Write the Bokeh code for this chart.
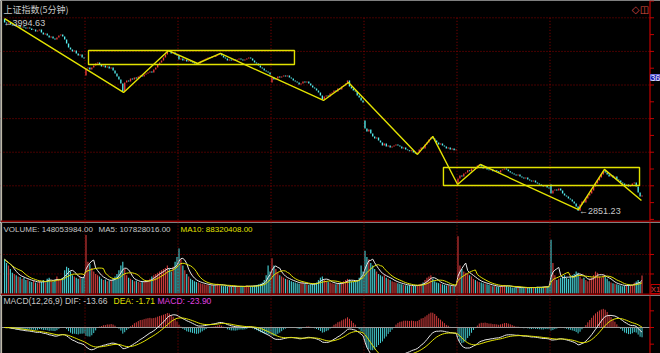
import numpy as np
import pandas as pd
from bokeh.plotting import figure
from bokeh.layouts import column
from bokeh.models import Range1d, Span, Label
from bokeh.embed import file_html
from bokeh.resources import INLINE
from bokeh.core.properties import value

# ---------------- data ----------------
TITLE = "上证指数(5分钟)"
VOL_LABELS = ["VOLUME: 148053984.00", "MA5: 107828016.00", "MA10: 88320408.00"]
MACD_LABELS = ["MACD(12,26,9) DIF: -13.66", "DEA: -1.71", "MACD: -23.90"]
PRICE_LABEL = "36"
VOL_UNIT_LABEL = "X1"

day_open = [3994.63, 3657, 3776, 3615, 3389, 3014, 3008]

day1_close = [3972, 3966, 3972, 3960, 3954, 3960, 3948, 3954, 3942, 3948,
              3942, 3936, 3942, 3936, 3927, 3930, 3918, 3924, 3930, 3913,
              3901, 3907, 3895, 3883, 3889, 3877, 3871, 3883, 3895, 3901,
              3889, 3871, 3847, 3823, 3811, 3800, 3806, 3788, 3776, 3782,
              3764, 3758]
day2_close = [3698, 3704, 3692, 3704, 3716, 3728, 3734, 3722, 3710, 3716,
              3704, 3710, 3698, 3704, 3687, 3669, 3651, 3633, 3609, 3565,
              3615, 3627, 3621, 3639, 3633, 3645, 3639, 3651, 3657, 3651,
              3663, 3669, 3675, 3681, 3675, 3692, 3704, 3722, 3734, 3746,
              3764, 3782, 3805, 3800, 3788, 3794, 3782, 3776]
day3_close = [3752, 3758, 3746, 3752, 3740, 3746, 3740, 3734, 3728, 3722,
              3728, 3740, 3746, 3752, 3758, 3764, 3761, 3770, 3767, 3776,
              3782, 3788, 3776, 3764, 3758, 3746, 3752, 3746, 3752, 3746,
              3752, 3758, 3752, 3746, 3752, 3758, 3764, 3758, 3746, 3734,
              3728, 3716, 3704, 3698, 3687, 3681, 3675, 3663]
day4_close = [3645, 3633, 3639, 3651, 3645, 3651, 3657, 3651, 3657, 3645,
              3639, 3627, 3621, 3615, 3603, 3609, 3621, 3615, 3621, 3609,
              3597, 3585, 3579, 3568, 3556, 3538, 3514, 3532, 3538, 3532,
              3550, 3556, 3568, 3562, 3579, 3573, 3591, 3597, 3609, 3627,
              3591, 3579, 3568, 3562, 3538, 3526, 3508, 3496]
day5_close = [3341, 3324, 3335, 3312, 3294, 3282, 3288, 3270, 3258, 3240,
              3252, 3234, 3240, 3228, 3234, 3240, 3246, 3240, 3234, 3222,
              3228, 3216, 3211, 3205, 3211, 3199, 3193, 3199, 3216, 3228,
              3222, 3246, 3258, 3276, 3288, 3282, 3270, 3258, 3246, 3252,
              3240, 3234, 3222, 3228, 3216, 3222, 3211, 3216]
day6_close = [3044, 3062, 3056, 3074, 3080, 3092, 3086, 3103, 3109, 3103,
              3121, 3127, 3115, 3103, 3109, 3097, 3092, 3097, 3086, 3092,
              3086, 3080, 3092, 3097, 3103, 3097, 3086, 3080, 3074, 3068,
              3062, 3068, 3056, 3050, 3044, 3050, 3038, 3032, 3026, 3032,
              3020, 3014, 3008, 3002, 2996, 3002, 2990, 2984]
day7_close = [2955, 2972, 2978, 2972, 2984, 2972, 2955, 2943, 2937, 2925,
              2919, 2907, 2895, 2877, 2851.23, 2889, 2907, 2901, 2925, 2943,
              2955, 2972, 2996, 3014, 3032, 3050, 3068, 3086, 3080, 3068,
              3056, 3062, 3050, 3056, 3038, 3032, 3020, 3014, 3002, 3008,
              2996, 3002, 3014, 3020, 2996, 2960, 2937, 2943]
day_closes = [day1_close, day2_close, day3_close, day4_close,
              day5_close, day6_close, day7_close]

# volumes in millions
day1_vol = [280, 250, 230, 200, 170, 160, 150, 140, 135, 120,
            130, 110, 115, 100, 95, 105, 90, 85, 100, 95,
            110, 90, 120, 130, 100, 95, 110, 140, 120, 115,
            130, 190, 220, 210, 180, 150, 140, 130, 120, 135,
            125, 140]
day2_vol = [480, 260, 240, 210, 180, 160, 150, 140, 120, 110,
            115, 100, 105, 110, 120, 140, 160, 190, 230, 260,
            200, 150, 130, 120, 110, 100, 105, 95, 90, 100,
            95, 105, 110, 120, 140, 150, 160, 170, 180, 190,
            200, 210, 230, 200, 180, 220, 260, 300]
day3_vol = [370, 280, 230, 190, 160, 140, 120, 110, 100, 95,
            90, 85, 80, 75, 70, 72, 65, 70, 68, 75,
            80, 70, 65, 60, 62, 58, 60, 55, 58, 62,
            55, 60, 58, 56, 60, 65, 62, 58, 60, 65,
            70, 75, 80, 90, 110, 150, 230, 180]
day4_vol = [290, 230, 200, 170, 150, 140, 130, 120, 115, 110,
            100, 95, 90, 85, 80, 85, 90, 80, 75, 70,
            75, 80, 85, 90, 110, 130, 140, 110, 100, 95,
            90, 85, 80, 75, 80, 85, 90, 100, 110, 120,
            115, 100, 95, 100, 110, 130, 230, 180]
day5_vol = [350, 300, 280, 250, 230, 200, 180, 160, 150, 140,
            150, 130, 120, 110, 100, 95, 90, 85, 80, 75,
            70, 68, 65, 70, 60, 62, 65, 70, 75, 80,
            90, 110, 130, 140, 150, 120, 100, 90, 85, 80,
            75, 70, 65, 68, 62, 60, 58, 65]
day6_vol = [470, 230, 200, 180, 170, 160, 150, 140, 120, 110,
            100, 95, 90, 85, 80, 75, 70, 65, 60, 62,
            58, 55, 60, 65, 70, 62, 58, 55, 50, 48,
            52, 50, 48, 45, 50, 48, 45, 50, 52, 48,
            50, 55, 52, 50, 55, 60, 58, 62]
day7_vol = [440, 250, 150, 110, 120, 130, 140, 150, 130, 120,
            140, 150, 160, 180, 170, 140, 120, 130, 110, 100,
            120, 130, 150, 180, 170, 140, 130, 150, 140, 120,
            100, 90, 85, 80, 75, 70, 65, 60, 62, 70,
            75, 68, 69.1, 88, 98, 110, 95, 148.05]
day_vols = [day1_vol, day2_vol, day3_vol, day4_vol, day5_vol, day6_vol, day7_vol]

# hand-drawn annotations (bar index, price)
zigzag_bar = [0, 61.4, 84.6, 99.6, 111.4, 164.6, 177.5, 213.1, 221.0, 233.8,
              245.6, 296.2, 309.6, 328.7]
zigzag_price = [3994.63, 3556, 3805, 3728, 3788, 3508, 3615, 3187, 3294, 3008,
                3127, 2858, 3098, 2913]
box_left = [43.3, 226.5]
box_right = [149.6, 327.7]
box_top = [3805, 3109]
box_bottom = [3722, 3002]

price_grid = [4000, 3800, 3600, 3400, 3200, 3000]
price_ticks = [2800, 2900, 3000, 3100, 3200, 3300, 3400, 3500, 3600, 3700,
               3800, 3900, 4000, 4100]
macd_ticks = [-40, 0, 40]

# ---------------- layout constants ----------------
W = 660
H_MAIN, H_VOL, H_MACD = 222, 73, 58
PX_BAR = 93 / 48
X0 = 4.1
P_PER_PX = 5.952
P_TOP = 4103.0
VS = 8.2      # million shares per pixel
MS = 2.4      # macd units per pixel

BG = "black"
C_UP = "#F03A3A"
C_DN = "#54EEF0"
V_UP = "#C83A3A"
V_DN = "#44C6CA"
GRID = "#8E0000"
AXIS = "#C40000"
SEP = "#900000"
YEL = "#E2E200"
WHT = "#E8E8E8"
TXT = "#C8C8C8"
MAG = "#E040E0"
FONT = "Liberation Sans"

# ---------------- derived series ----------------
closes = np.concatenate([np.array(c, dtype=float) for c in day_closes])
vols = np.concatenate([np.array(v, dtype=float) for v in day_vols])
N = len(closes)
assert len(vols) == N, (len(vols), N)
idx = np.arange(N)
opens = np.empty(N)
starts = []
pos = 0
for d, c in enumerate(day_closes):
    starts.append(pos)
    opens[pos] = day_open[d]
    opens[pos + 1:pos + len(c)] = np.array(c[:-1], dtype=float)
    pos += len(c)
bounds = [s - 0.5 for s in starts[1:]]

up = closes >= opens
ctop = np.maximum(opens, closes)
cbot = np.minimum(opens, closes)
flat = (ctop - cbot) < 3
ctop = np.where(flat, ctop + 2, ctop)
cbot = np.where(flat, cbot - 2, cbot)
ccol = np.where(up, C_UP, C_DN)
vcol = np.where(up, V_UP, V_DN)

vs = pd.Series(vols)
ma5 = vs.rolling(5, min_periods=1).mean().values
ma10 = vs.rolling(10, min_periods=1).mean().values

cs = pd.Series(closes)
dif = (cs.ewm(span=12, adjust=False).mean() - cs.ewm(span=26, adjust=False).mean()).values
dea = pd.Series(dif).ewm(span=9, adjust=False).mean().values
hist = 2 * (dif - dea)
hcol = np.where(hist >= 0, "#D03C3C", "#44CCD0")

x_start = -X0 / PX_BAR
x_end = (W - X0) / PX_BAR
AXIS_X = (649.5 - X0) / PX_BAR
TICK_X = (653.5 - X0) / PX_BAR
LEFT_X = (1.0 - X0) / PX_BAR
xr = Range1d(x_start, x_end)


def base_fig(height, yr):
    f = figure(width=W, height=height, x_range=xr, y_range=yr,
               output_backend="svg", toolbar_location=None, min_border=0,
               x_axis_type=None, y_axis_type=None,
               background_fill_color=BG, border_fill_color=BG,
               outline_line_color=None)
    f.add_layout(Span(location=AXIS_X, dimension="height", line_color=AXIS, line_width=1.2))
    f.add_layout(Span(location=LEFT_X, dimension="height", line_color="#BDB8A8", line_width=1.2))
    return f


# ---------------- main price panel ----------------
p_bottom = P_TOP - H_MAIN * P_PER_PX
p = base_fig(H_MAIN, Range1d(p_bottom, P_TOP))
p.segment(x0=[x_start] * len(price_grid), x1=[AXIS_X] * len(price_grid),
          y0=price_grid, y1=price_grid, line_color=GRID, line_dash="1 2", line_width=1)
p.segment(x0=bounds, x1=bounds, y0=[price_grid[0]] * len(bounds), y1=[p_bottom] * len(bounds),
          line_color=GRID, line_dash="1 2", line_width=1)
p.segment(x0=[AXIS_X] * len(price_ticks), x1=[TICK_X] * len(price_ticks),
          y0=price_ticks, y1=price_ticks, line_color=AXIS, line_width=1)
p.add_layout(Span(location=p_bottom + 1.0 * P_PER_PX, dimension="width",
                  line_color=SEP, line_width=2))

p.vbar(x=idx, top=ctop, bottom=cbot, width=0.7, fill_color=ccol, line_color=None)

p.line(zigzag_bar, zigzag_price, line_color=YEL, line_width=1.4)
p.quad(left=box_left, right=box_right, top=box_top, bottom=box_bottom,
       fill_color=None, line_color=YEL, line_width=1.4)

i_max = int(np.argmax(np.maximum(opens, closes)))
i_min = int(np.argmin(np.minimum(opens, closes)))
hi = float(np.maximum(opens, closes)[i_max])
lo = float(np.minimum(opens, closes)[i_min])
p.text(x=[i_max], y=[hi], text=["\u2190%.2f" % hi], text_color=TXT,
       text_font=value(FONT), text_font_size=value("9px"),
       text_baseline="middle", text_align="left", x_offset=-1, y_offset=4)
p.text(x=[i_min], y=[lo], text=["\u2190%.2f" % lo], text_color=TXT,
       text_font=value(FONT), text_font_size=value("9px"),
       text_baseline="middle", text_align="left", x_offset=1, y_offset=0)

p.add_layout(Label(x=3, y=H_MAIN - 9, x_units="screen", y_units="screen", text=TITLE,
                   text_font="Noto Sans CJK SC", text_font_size="9px", text_color=TXT,
                   text_baseline="middle"))
p.add_layout(Label(x=635, y=H_MAIN - 9, x_units="screen", y_units="screen", text="\u25c7",
                   text_font="DejaVu Sans", text_font_size="10px", text_color="#D04848",
                   text_baseline="middle", text_align="center"))
p.add_layout(Label(x=644, y=H_MAIN - 9, x_units="screen", y_units="screen", text="\u25eb",
                   text_font="DejaVu Sans", text_font_size="10px", text_color="#E05040",
                   text_baseline="middle", text_align="center"))
p.add_layout(Label(x=650, y=H_MAIN - 77, x_units="screen", y_units="screen", text=PRICE_LABEL,
                   text_font=FONT, text_font_size="8.5px", text_color="#F0F0F0",
                   background_fill_color="#1C1CB4", border_line_color="#7070E0",
                   text_baseline="middle"))

# ---------------- volume panel ----------------
pv = base_fig(H_VOL, Range1d(-2 * VS, 71 * VS))
vmax = float(vols.max())
vgrid = [vmax / 3, 2 * vmax / 3]
pv.segment(x0=[x_start] * 2, x1=[AXIS_X] * 2, y0=vgrid, y1=vgrid,
           line_color=GRID, line_dash="1 2", line_width=1)
pv.segment(x0=[AXIS_X] * 3, x1=[TICK_X] * 3, y0=[0] + vgrid, y1=[0] + vgrid,
           line_color=AXIS, line_width=1)
for b in bounds:
    pv.add_layout(Span(location=b, dimension="height", line_color=GRID, line_dash="1 2"))
pv.vbar(x=idx, top=vols, bottom=0, width=0.62, fill_color=vcol, line_color=None)
pv.line(idx, ma5, line_color=WHT, line_width=1)
pv.line(idx, ma10, line_color=YEL, line_width=1)
pv.add_layout(Span(location=-1.0 * VS, dimension="width", line_color=SEP, line_width=2))
for xx, t, col in zip([3, 98, 180], VOL_LABELS, [TXT, TXT, YEL]):
    pv.add_layout(Label(x=xx, y=H_VOL - 6.5, x_units="screen", y_units="screen", text=t,
                        text_font=FONT, text_font_size="8px", text_color=col,
                        text_baseline="middle"))
pv.add_layout(Label(x=650.5, y=6.5, x_units="screen", y_units="screen", text=VOL_UNIT_LABEL,
                    text_font=FONT, text_font_size="7.5px", text_color="#E03C3C",
                    border_line_color="#C00000", background_fill_color=BG,
                    text_baseline="middle"))

# ---------------- MACD panel ----------------
pm = base_fig(H_MACD, Range1d(-26 * MS, 32 * MS))
for b in bounds:
    pm.add_layout(Span(location=b, dimension="height", line_color=GRID, line_dash="1 2"))
pm.segment(x0=[AXIS_X] * len(macd_ticks), x1=[TICK_X] * len(macd_ticks),
           y0=macd_ticks, y1=macd_ticks, line_color=AXIS, line_width=1)
pm.segment(x0=idx, x1=idx, y0=np.zeros(N), y1=hist, line_color=hcol, line_width=1)
pm.segment(x0=[x_start], x1=[AXIS_X], y0=[0], y1=[0], line_color="#9A9A9A", line_width=1)
pm.line(idx, dif, line_color=WHT, line_width=1)
pm.line(idx, dea, line_color=YEL, line_width=1)
for xx, t, col in zip([3, 113, 157], MACD_LABELS, [TXT, YEL, MAG]):
    pm.add_layout(Label(x=xx, y=H_MACD - 5, x_units="screen", y_units="screen", text=t,
                        text_font=FONT, text_font_size="8.5px", text_color=col,
                        text_baseline="middle"))

layout = column(p, pv, pm)
open("out.html", "w").write(file_html(layout, INLINE))
